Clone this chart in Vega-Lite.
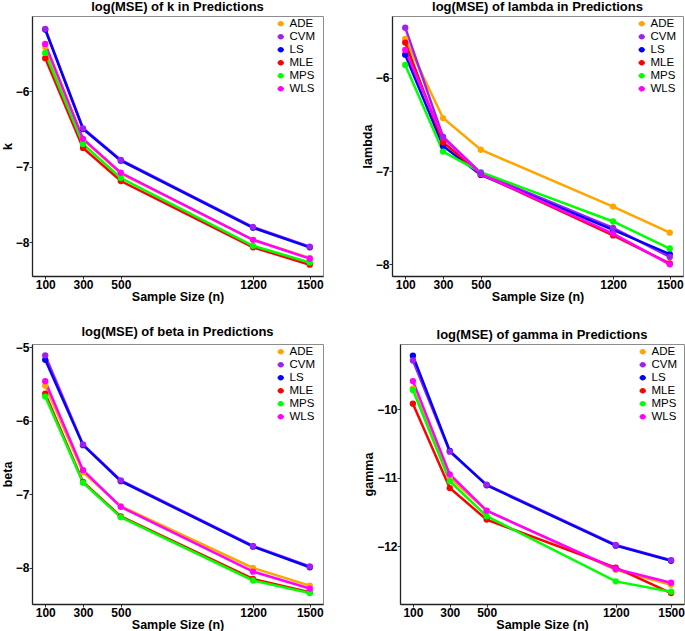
{
  "$schema": "https://vega.github.io/schema/vega-lite/v6.json",
  "background": "white",
  "padding": 0,
  "data": {
    "values": [
      {"param": "k", "method": "ADE", "n": 100, "value": -5.41},
      {"param": "k", "method": "ADE", "n": 300, "value": -6.64},
      {"param": "k", "method": "ADE", "n": 500, "value": -7.09},
      {"param": "k", "method": "ADE", "n": 1200, "value": -7.97},
      {"param": "k", "method": "ADE", "n": 1500, "value": -8.21},
      {"param": "k", "method": "CVM", "n": 100, "value": -5.17},
      {"param": "k", "method": "CVM", "n": 300, "value": -6.49},
      {"param": "k", "method": "CVM", "n": 500, "value": -6.91},
      {"param": "k", "method": "CVM", "n": 1200, "value": -7.80},
      {"param": "k", "method": "CVM", "n": 1500, "value": -8.06},
      {"param": "k", "method": "LS", "n": 100, "value": -5.18},
      {"param": "k", "method": "LS", "n": 300, "value": -6.50},
      {"param": "k", "method": "LS", "n": 500, "value": -6.92},
      {"param": "k", "method": "LS", "n": 1200, "value": -7.81},
      {"param": "k", "method": "LS", "n": 1500, "value": -8.07},
      {"param": "k", "method": "MLE", "n": 100, "value": -5.56},
      {"param": "k", "method": "MLE", "n": 300, "value": -6.75},
      {"param": "k", "method": "MLE", "n": 500, "value": -7.19},
      {"param": "k", "method": "MLE", "n": 1200, "value": -8.07},
      {"param": "k", "method": "MLE", "n": 1500, "value": -8.30},
      {"param": "k", "method": "MPS", "n": 100, "value": -5.49},
      {"param": "k", "method": "MPS", "n": 300, "value": -6.70},
      {"param": "k", "method": "MPS", "n": 500, "value": -7.15},
      {"param": "k", "method": "MPS", "n": 1200, "value": -8.05},
      {"param": "k", "method": "MPS", "n": 1500, "value": -8.27},
      {"param": "k", "method": "WLS", "n": 100, "value": -5.37},
      {"param": "k", "method": "WLS", "n": 300, "value": -6.63},
      {"param": "k", "method": "WLS", "n": 500, "value": -7.08},
      {"param": "k", "method": "WLS", "n": 1200, "value": -7.97},
      {"param": "k", "method": "WLS", "n": 1500, "value": -8.22},

      {"param": "lambda", "method": "ADE", "n": 100, "value": -5.58},
      {"param": "lambda", "method": "ADE", "n": 300, "value": -6.43},
      {"param": "lambda", "method": "ADE", "n": 500, "value": -6.77},
      {"param": "lambda", "method": "ADE", "n": 1200, "value": -7.38},
      {"param": "lambda", "method": "ADE", "n": 1500, "value": -7.66},
      {"param": "lambda", "method": "CVM", "n": 100, "value": -5.46},
      {"param": "lambda", "method": "CVM", "n": 300, "value": -6.63},
      {"param": "lambda", "method": "CVM", "n": 500, "value": -7.02},
      {"param": "lambda", "method": "CVM", "n": 1200, "value": -7.61},
      {"param": "lambda", "method": "CVM", "n": 1500, "value": -7.92},
      {"param": "lambda", "method": "LS", "n": 100, "value": -5.75},
      {"param": "lambda", "method": "LS", "n": 300, "value": -6.73},
      {"param": "lambda", "method": "LS", "n": 500, "value": -7.04},
      {"param": "lambda", "method": "LS", "n": 1200, "value": -7.63},
      {"param": "lambda", "method": "LS", "n": 1500, "value": -7.89},
      {"param": "lambda", "method": "MLE", "n": 100, "value": -5.62},
      {"param": "lambda", "method": "MLE", "n": 300, "value": -6.69},
      {"param": "lambda", "method": "MLE", "n": 500, "value": -7.03},
      {"param": "lambda", "method": "MLE", "n": 1200, "value": -7.69},
      {"param": "lambda", "method": "MLE", "n": 1500, "value": -7.99},
      {"param": "lambda", "method": "MPS", "n": 100, "value": -5.86},
      {"param": "lambda", "method": "MPS", "n": 300, "value": -6.79},
      {"param": "lambda", "method": "MPS", "n": 500, "value": -7.01},
      {"param": "lambda", "method": "MPS", "n": 1200, "value": -7.54},
      {"param": "lambda", "method": "MPS", "n": 1500, "value": -7.83},
      {"param": "lambda", "method": "WLS", "n": 100, "value": -5.70},
      {"param": "lambda", "method": "WLS", "n": 300, "value": -6.64},
      {"param": "lambda", "method": "WLS", "n": 500, "value": -7.03},
      {"param": "lambda", "method": "WLS", "n": 1200, "value": -7.67},
      {"param": "lambda", "method": "WLS", "n": 1500, "value": -8.00},

      {"param": "beta", "method": "ADE", "n": 100, "value": -5.52},
      {"param": "beta", "method": "ADE", "n": 300, "value": -6.70},
      {"param": "beta", "method": "ADE", "n": 500, "value": -7.16},
      {"param": "beta", "method": "ADE", "n": 1200, "value": -8.00},
      {"param": "beta", "method": "ADE", "n": 1500, "value": -8.24},
      {"param": "beta", "method": "CVM", "n": 100, "value": -5.11},
      {"param": "beta", "method": "CVM", "n": 300, "value": -6.32},
      {"param": "beta", "method": "CVM", "n": 500, "value": -6.81},
      {"param": "beta", "method": "CVM", "n": 1200, "value": -7.70},
      {"param": "beta", "method": "CVM", "n": 1500, "value": -7.98},
      {"param": "beta", "method": "LS", "n": 100, "value": -5.17},
      {"param": "beta", "method": "LS", "n": 300, "value": -6.33},
      {"param": "beta", "method": "LS", "n": 500, "value": -6.82},
      {"param": "beta", "method": "LS", "n": 1200, "value": -7.71},
      {"param": "beta", "method": "LS", "n": 1500, "value": -7.99},
      {"param": "beta", "method": "MLE", "n": 100, "value": -5.63},
      {"param": "beta", "method": "MLE", "n": 300, "value": -6.83},
      {"param": "beta", "method": "MLE", "n": 500, "value": -7.30},
      {"param": "beta", "method": "MLE", "n": 1200, "value": -8.15},
      {"param": "beta", "method": "MLE", "n": 1500, "value": -8.33},
      {"param": "beta", "method": "MPS", "n": 100, "value": -5.67},
      {"param": "beta", "method": "MPS", "n": 300, "value": -6.84},
      {"param": "beta", "method": "MPS", "n": 500, "value": -7.31},
      {"param": "beta", "method": "MPS", "n": 1200, "value": -8.17},
      {"param": "beta", "method": "MPS", "n": 1500, "value": -8.34},
      {"param": "beta", "method": "WLS", "n": 100, "value": -5.46},
      {"param": "beta", "method": "WLS", "n": 300, "value": -6.67},
      {"param": "beta", "method": "WLS", "n": 500, "value": -7.17},
      {"param": "beta", "method": "WLS", "n": 1200, "value": -8.05},
      {"param": "beta", "method": "WLS", "n": 1500, "value": -8.28},

      {"param": "gamma", "method": "ADE", "n": 100, "value": -9.70},
      {"param": "gamma", "method": "ADE", "n": 300, "value": -11.00},
      {"param": "gamma", "method": "ADE", "n": 500, "value": -11.48},
      {"param": "gamma", "method": "ADE", "n": 1200, "value": -12.34},
      {"param": "gamma", "method": "ADE", "n": 1500, "value": -12.56},
      {"param": "gamma", "method": "CVM", "n": 100, "value": -9.29},
      {"param": "gamma", "method": "CVM", "n": 300, "value": -10.62},
      {"param": "gamma", "method": "CVM", "n": 500, "value": -11.10},
      {"param": "gamma", "method": "CVM", "n": 1200, "value": -11.98},
      {"param": "gamma", "method": "CVM", "n": 1500, "value": -12.20},
      {"param": "gamma", "method": "LS", "n": 100, "value": -9.22},
      {"param": "gamma", "method": "LS", "n": 300, "value": -10.61},
      {"param": "gamma", "method": "LS", "n": 500, "value": -11.11},
      {"param": "gamma", "method": "LS", "n": 1200, "value": -11.99},
      {"param": "gamma", "method": "LS", "n": 1500, "value": -12.21},
      {"param": "gamma", "method": "MLE", "n": 100, "value": -9.92},
      {"param": "gamma", "method": "MLE", "n": 300, "value": -11.15},
      {"param": "gamma", "method": "MLE", "n": 500, "value": -11.61},
      {"param": "gamma", "method": "MLE", "n": 1200, "value": -12.31},
      {"param": "gamma", "method": "MLE", "n": 1500, "value": -12.68},
      {"param": "gamma", "method": "MPS", "n": 100, "value": -9.72},
      {"param": "gamma", "method": "MPS", "n": 300, "value": -11.05},
      {"param": "gamma", "method": "MPS", "n": 500, "value": -11.56},
      {"param": "gamma", "method": "MPS", "n": 1200, "value": -12.51},
      {"param": "gamma", "method": "MPS", "n": 1500, "value": -12.66},
      {"param": "gamma", "method": "WLS", "n": 100, "value": -9.59},
      {"param": "gamma", "method": "WLS", "n": 300, "value": -10.95},
      {"param": "gamma", "method": "WLS", "n": 500, "value": -11.48},
      {"param": "gamma", "method": "WLS", "n": 1200, "value": -12.33},
      {"param": "gamma", "method": "WLS", "n": 1500, "value": -12.53}
    ]
  },
  "config": {
    "font": "Liberation Sans",
    "view": {"stroke": "#8c8c8c", "strokeWidth": 1},
    "axis": {
      "grid": false,
      "domainColor": "#222222",
      "domainWidth": 1.3,
      "tickColor": "#333333",
      "tickSize": 3,
      "labelFontSize": 12,
      "labelFontWeight": "bold",
      "labelColor": "black",
      "labelPadding": 0,
      "titleFontSize": 12.5,
      "titleFontWeight": "bold",
      "titleColor": "black",
      "titlePadding": 0
    },
    "axisX": {"format": "d", "labelFlush": false},
    "axisY": {"titlePadding": 1},
    "title": {"fontSize": 13, "fontWeight": "bold", "color": "black", "offset": 2},
    "legend": {
      "orient": "none",
      "legendY": 2,
      "title": null,
      "labelFontSize": 11.5,
      "labelColor": "black",
      "labelOffset": 3,
      "rowPadding": 0,
      "padding": 0,
      "symbolType": "M-1,0L1,0M0.55,0A0.55,0.55,0,1,1,-0.55,0A0.55,0.55,0,1,1,0.55,0",
      "symbolSize": 40,
      "symbolStrokeWidth": 2
    }
  },
  "resolve": {"legend": {"color": "independent"}},
  "spacing": 22,
  "vconcat": [
    {
      "spacing": 36,
      "resolve": {"legend": {"color": "independent"}},
      "hconcat": [
        {
          "width": 291,
          "height": 260,
          "title": "log(MSE) of k in Predictions",
          "transform": [{"filter": "datum.param === 'k'"}],
          "encoding": {
            "x": {"field": "n", "type": "quantitative", "scale": {"domain": [30, 1570], "nice": false, "zero": false}, "axis": {"values": [100, 300, 500, 1200, 1500], "title": "Sample Size (n)"}},
            "y": {"field": "value", "type": "quantitative", "scale": {"domain": [-8.45, -5.0], "nice": false, "zero": false}, "axis": {"values": [-6, -7, -8], "title": "k"}},
            "color": {"field": "method", "type": "nominal", "scale": {"domain": ["ADE", "CVM", "LS", "MLE", "MPS", "WLS"], "range": ["#FFA500", "#A020F0", "#0000FF", "#FF0000", "#00FF00", "#FF00FF"]}, "legend": {"legendX": 243}}
          },
          "layer": [
            {"mark": {"type": "line", "strokeWidth": 2.5}},
            {
              "transform": [{"calculate": "datum.method === 'CVM' ? 1 : 0", "as": "z"}],
              "mark": {"type": "point", "filled": true, "size": 40, "opacity": 1},
              "encoding": {"order": {"field": "z"}}
            }
          ]
        },
        {
          "width": 291,
          "height": 260,
          "title": "log(MSE) of lambda in Predictions",
          "transform": [{"filter": "datum.param === 'lambda'"}],
          "encoding": {
            "x": {"field": "n", "type": "quantitative", "scale": {"domain": [30, 1570], "nice": false, "zero": false}, "axis": {"values": [100, 300, 500, 1200, 1500], "title": "Sample Size (n)"}},
            "y": {"field": "value", "type": "quantitative", "scale": {"domain": [-8.125, -5.335], "nice": false, "zero": false}, "axis": {"values": [-6, -7, -8], "title": "lambda"}},
            "color": {"field": "method", "type": "nominal", "scale": {"domain": ["ADE", "CVM", "LS", "MLE", "MPS", "WLS"], "range": ["#FFA500", "#A020F0", "#0000FF", "#FF0000", "#00FF00", "#FF00FF"]}, "legend": {"legendX": 244}}
          },
          "layer": [
            {"mark": {"type": "line", "strokeWidth": 2.5}},
            {
              "transform": [{"calculate": "datum.method === 'CVM' ? 1 : 0", "as": "z"}],
              "mark": {"type": "point", "filled": true, "size": 40, "opacity": 1},
              "encoding": {"order": {"field": "z"}}
            }
          ]
        }
      ]
    },
    {
      "spacing": 38,
      "resolve": {"legend": {"color": "independent"}},
      "hconcat": [
        {
          "width": 291,
          "height": 260,
          "title": "log(MSE) of beta in Predictions",
          "transform": [{"filter": "datum.param === 'beta'"}],
          "encoding": {
            "x": {"field": "n", "type": "quantitative", "scale": {"domain": [30, 1570], "nice": false, "zero": false}, "axis": {"values": [100, 300, 500, 1200, 1500], "title": "Sample Size (n)"}},
            "y": {"field": "value", "type": "quantitative", "scale": {"domain": [-8.49, -4.955], "nice": false, "zero": false}, "axis": {"values": [-5, -6, -7, -8], "title": "beta"}},
            "color": {"field": "method", "type": "nominal", "scale": {"domain": ["ADE", "CVM", "LS", "MLE", "MPS", "WLS"], "range": ["#FFA500", "#A020F0", "#0000FF", "#FF0000", "#00FF00", "#FF00FF"]}, "legend": {"legendX": 243}}
          },
          "layer": [
            {"mark": {"type": "line", "strokeWidth": 2.5}},
            {
              "transform": [{"calculate": "datum.method === 'CVM' ? 1 : 0", "as": "z"}],
              "mark": {"type": "point", "filled": true, "size": 40, "opacity": 1},
              "encoding": {"order": {"field": "z"}}
            }
          ]
        },
        {
          "width": 284,
          "height": 260,
          "title": "log(MSE) of gamma in Predictions",
          "transform": [{"filter": "datum.param === 'gamma'"}],
          "encoding": {
            "x": {"field": "n", "type": "quantitative", "scale": {"domain": [30, 1570], "nice": false, "zero": false}, "axis": {"values": [100, 300, 500, 1200, 1500], "title": "Sample Size (n)"}},
            "y": {"field": "value", "type": "quantitative", "scale": {"domain": [-12.84, -9.05], "nice": false, "zero": false}, "axis": {"values": [-10, -11, -12], "title": "gamma"}},
            "color": {"field": "method", "type": "nominal", "scale": {"domain": ["ADE", "CVM", "LS", "MLE", "MPS", "WLS"], "range": ["#FFA500", "#A020F0", "#0000FF", "#FF0000", "#00FF00", "#FF00FF"]}, "legend": {"legendX": 237}}
          },
          "layer": [
            {"mark": {"type": "line", "strokeWidth": 2.5}},
            {
              "transform": [{"calculate": "datum.method === 'CVM' ? 1 : 0", "as": "z"}],
              "mark": {"type": "point", "filled": true, "size": 40, "opacity": 1},
              "encoding": {"order": {"field": "z"}}
            }
          ]
        }
      ]
    }
  ]
}
